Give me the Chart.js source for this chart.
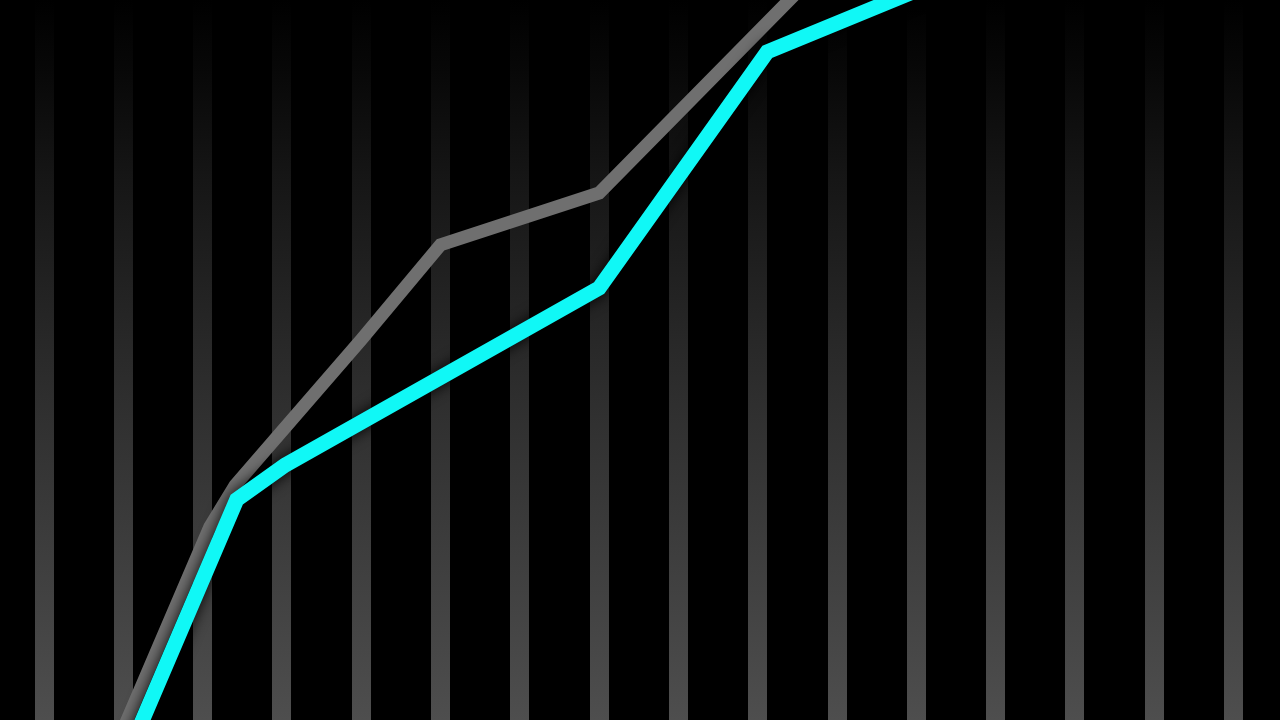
<!DOCTYPE html>
<html>
<head>
<meta charset="utf-8">
<title>Two lines over fading columns</title>
<script src="https://cdn.jsdelivr.net/npm/chart.js@4/dist/chart.umd.min.js"></script>
<style>
  html, body { margin: 0; padding: 0; background: #000; }
  #wrap { width: 1280px; height: 720px; position: relative; }
</style>
</head>
<body>
<div id="wrap"><canvas id="line-chart"></canvas></div>
<script>
// Column positions (grid steps) and the two series
const xTicks = [0, 1, 2, 3, 4, 5, 6, 7, 8, 9, 10, 11, 12, 13, 14, 15];

const grayX = [0.83, 2.09, 2.41, 3.0, 4.0, 5.0, 7.0, 9.4, 9.9];
const grayY = [-5.6, 26.8, 32.6, 40.1, 52.8, 66.0, 73.2, 100, 105.6];

const cyanX = [0.92, 2.43, 3.04, 7.0, 9.12, 12.3];
const cyanY = [-8.3, 30.6, 35.4, 60.0, 92.8, 107.2];

(function () {
  'use strict';

  const canvas = document.getElementById('line-chart');
  if (!canvas || typeof Chart === 'undefined') return;

  function toPoints(xs, ys) {
    return xs.map((x, i) => ({ x: x, y: ys[i] }));
  }

  // Columns fade out toward the top
  function columnColor(context) {
    const chart = context.chart;
    const area = chart.chartArea;
    if (!area) return '#3a3a3a';
    const g = chart.ctx.createLinearGradient(0, area.bottom, 0, area.top);
    g.addColorStop(0, 'rgb(78, 78, 78)');
    g.addColorStop(0.45, 'rgb(46, 46, 46)');
    g.addColorStop(0.75, 'rgb(22, 22, 22)');
    g.addColorStop(0.9, 'rgb(8, 8, 8)');
    g.addColorStop(1, 'rgb(0, 0, 0)');
    return g;
  }

  // Dark halo under the cyan line
  const halo = {
    id: 'halo',
    beforeDatasetDraw(chart, args) {
      if (args.index === 1) {
        const ctx = chart.ctx;
        ctx.save();
        ctx.shadowColor = 'rgba(0, 0, 0, 0.95)';
        ctx.shadowBlur = 14;
      }
    },
    afterDatasetDraw(chart, args) {
      if (args.index === 1) chart.ctx.restore();
    }
  };

  new Chart(canvas, {
    type: 'line',
    data: {
      datasets: [
        {
          label: 'gray',
          data: toPoints(grayX, grayY),
          borderColor: '#6f6f6f',
          borderWidth: 13,
          pointRadius: 0,
          tension: 0,
          order: 1
        },
        {
          label: 'cyan',
          data: toPoints(cyanX, cyanY),
          borderColor: '#10f8f6',
          borderWidth: 15,
          pointRadius: 0,
          tension: 0,
          order: 0
        }
      ]
    },
    options: {
      responsive: true,
      maintainAspectRatio: false,
      animation: false,
      layout: { padding: 0 },
      plugins: {
        legend: { display: false },
        tooltip: { enabled: false }
      },
      scales: {
        x: {
          type: 'linear',
          min: -0.555,
          max: 15.586,
          afterBuildTicks: function (scale) {
            scale.ticks = xTicks.map(v => ({ value: v }));
          },
          ticks: { display: false },
          border: { display: false },
          grid: {
            drawTicks: false,
            lineWidth: 19,
            color: columnColor
          }
        },
        y: {
          display: false,
          min: 0,
          max: 100
        }
      }
    },
    plugins: [halo]
  });
})();
</script>
</body>
</html>
